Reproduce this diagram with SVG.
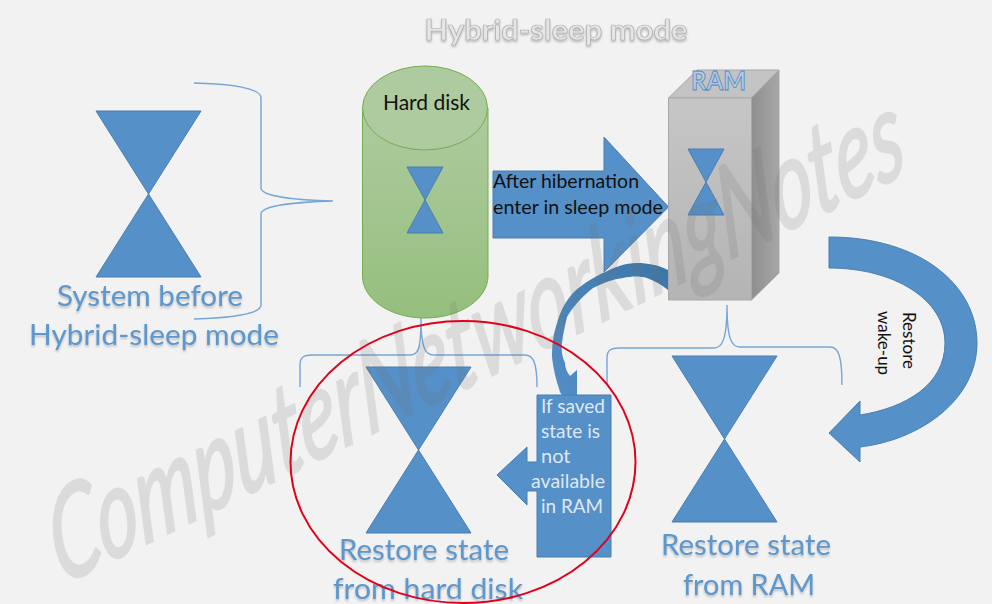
<svg xmlns="http://www.w3.org/2000/svg" width="992" height="604" viewBox="0 0 992 604">
<style>
text{font-family:"Lato","Open Sans","Liberation Sans",sans-serif}
.shape{fill:#5590c8;stroke:#4a7fb0;stroke-width:1}
.brace{fill:none;stroke:#74a6d6;stroke-width:1.4}
.label{fill:#5b97cd;font-size:29px;text-anchor:middle;filter:url(#shadow)}
.note{fill:#111;font-size:20px}
.inbox{fill:#dfe8f2;font-size:20px}
.rot{fill:#111;font-size:17px}
</style>
<defs>
<linearGradient id="disk" x1="0" y1="0" x2="0" y2="1"><stop offset="0" stop-color="#aecb9f"/><stop offset="1" stop-color="#95bf7d"/></linearGradient>
<linearGradient id="front" x1="0" y1="0" x2="0" y2="1"><stop offset="0" stop-color="#c6c6c6"/><stop offset="1" stop-color="#b4b4b4"/></linearGradient>
<linearGradient id="side" x1="0" y1="0" x2="1" y2="0"><stop offset="0" stop-color="#8f8f8f"/><stop offset="1" stop-color="#a6a6a6"/></linearGradient>
<linearGradient id="arc" x1="1" y1="0" x2="0" y2="1"><stop offset="0" stop-color="#3c76a8"/><stop offset="0.6" stop-color="#4a86bd"/><stop offset="1" stop-color="#5590c8"/></linearGradient>
<filter id="shadow" x="-10%" y="-20%" width="120%" height="150%"><feDropShadow dx="0" dy="2" stdDeviation="1.2" flood-color="#888" flood-opacity=".5"/></filter>
<path id="glass" d="M-52.5,-83 H52.5 L-52.5,83 H52.5 Z"/>
<path id="glassS" d="M-18,-33 H18 L-18,33 H18 Z"/>
</defs>
<rect width="992" height="604" fill="#f2f2f2"/>
<g id="title"><text x="556" y="40" text-anchor="middle" font-size="28" font-weight="700" fill="#e6e6e6" stroke="#b0b0b0" stroke-width=".7" filter="url(#shadow)" textLength="263" lengthAdjust="spacingAndGlyphs">Hybrid-sleep mode</text></g>
<g id="connectors">
<path class="brace" d="M194,83 C230,84 261,88 261,98 V188 C261,196 295,200 333,201 C295,202 261,206 261,214 V305 C261,314 230,318 194,319"/>
<path class="brace" d="M300,387 V365 C300,357 304,355 312,355 H410 C418,355 421,350 421,318 C421,350 426,355 434,355 H525 C533,355 537,362 537,387"/>
<path class="brace" d="M607,385 V358 C607,350 611,348 619,348 H714 C722,348 727,340 727,305 C727,340 732,347 740,347 H830 C838,347 842,355 842,385"/>
</g>
<g id="hard-disk">
<path d="M362.500,108 V276 C362.500,299 390,318 425,318 C460,318 488,299 488,276 V108 Z" fill="url(#disk)" stroke="#74ad50" stroke-width="1"/>
<ellipse cx="425" cy="108" rx="62.500" ry="42" fill="#aecb9f" stroke="#74ad50" stroke-width="1"/>
<text x="426.500" y="110" text-anchor="middle" font-size="21" fill="#111">Hard disk</text>
<use href="#glassS" x="425" y="200" class="shape"/>
</g>
<g id="hibernate-arrow">
<path class="shape" d="M493,171 H604 V137 L668.500,207 L604,272 V238 H493 Z"/>
<text class="note" x="493" y="188" textLength="146" lengthAdjust="spacingAndGlyphs">After hibernation</text>
<text class="note" x="493" y="214" textLength="170" lengthAdjust="spacingAndGlyphs">enter in sleep mode</text>
</g>
<g id="fallback-arc">
<path d="M668,270 C658,265 648,263 637,263 C625,263 615,267 605,272 C592,278 581,285 573,293 C564,303 560,313 557,323 C553,335 552,346 552,357 C553,368 556,380 560,392 L577,420 V370 L570,376 C567,372 565,368 565,363 C562,357 561,350 562,343 C563,334 565,325 567,317 C574,305 583,296 593,288 C603,283 613,279 623,278 C632,276 640,276 647,278 C655,281 662,285 668,290 Z" fill="url(#arc)"/>
</g>
<g id="ram">
<path d="M668.500,98 L697,70 H779 L751.500,98 Z" fill="#c3c3c3" stroke="#a8a8a8"/>
<path d="M751.500,98 L779,70 V273 L751.500,300 Z" fill="url(#side)" stroke="#a8a8a8"/>
<rect x="668.500" y="98" width="83" height="202" fill="url(#front)" stroke="#a8a8a8"/>
<text x="718.500" y="90" text-anchor="middle" font-size="26" font-weight="700" fill="#b3cae2" stroke="#4f86bf" stroke-width=".8" textLength="55" lengthAdjust="spacingAndGlyphs">RAM</text>
<use href="#glassS" x="706" y="182" class="shape"/>
</g>
<g id="system-before">
<use href="#glass" x="148.500" y="194" class="shape"/>
<text class="label" x="150" y="306" textLength="186" lengthAdjust="spacingAndGlyphs">System before</text>
<text class="label" x="154" y="345" textLength="250" lengthAdjust="spacingAndGlyphs">Hybrid-sleep mode</text>
</g>
<g id="restore-disk">
<use href="#glass" x="418.500" y="450" class="shape"/>
<text class="label" x="424" y="560" textLength="170" lengthAdjust="spacingAndGlyphs">Restore state</text>
<text class="label" x="428" y="599" textLength="190" lengthAdjust="spacingAndGlyphs">from hard disk</text>
</g>
<g id="restore-ram">
<use href="#glass" x="724.500" y="439" class="shape"/>
<text class="label" x="746" y="555" textLength="170" lengthAdjust="spacingAndGlyphs">Restore state</text>
<text class="label" x="749" y="595" textLength="132" lengthAdjust="spacingAndGlyphs">from RAM</text>
</g>
<g id="wake-arrow">
<path class="shape" d="M829,237 C920,237 977,285 977,343 C977,400 920,440 860,447 V462 L829,433 L860,401 V415 C905,408 945,385 945,343 C945,300 895,268 829,268 Z"/>
<text class="rot" transform="translate(903,312) rotate(90)">Restore</text>
<text class="rot" transform="translate(878,311) rotate(90)">wake-up</text>
</g>
<g id="not-available">
<path class="shape" d="M537,395 H611 V557 H537 V491 H527 V505 L497,475 L527,447 V462 H537 Z"/>
<text class="inbox" x="541" y="413" textLength="64" lengthAdjust="spacingAndGlyphs">If saved</text>
<text class="inbox" x="541" y="438" textLength="59" lengthAdjust="spacingAndGlyphs">state is</text>
<text class="inbox" x="541" y="463">not</text>
<text class="inbox" x="531" y="488" textLength="74" lengthAdjust="spacingAndGlyphs">available</text>
<text class="inbox" x="541" y="513" textLength="62" lengthAdjust="spacingAndGlyphs">in RAM</text>
</g>
<g id="watermark" opacity=".17"><text transform="translate(60,586) rotate(-26) skewX(-14)" font-size="122" font-style="italic" font-weight="400" fill="#707070" stroke="#707070" stroke-width="2.500" textLength="945" lengthAdjust="spacingAndGlyphs">ComputerNetworkingNotes</text></g>
<g id="highlight"><ellipse cx="463" cy="462" rx="172.500" ry="141" fill="none" stroke="#e2001a" stroke-width="2"/></g>
</svg>
